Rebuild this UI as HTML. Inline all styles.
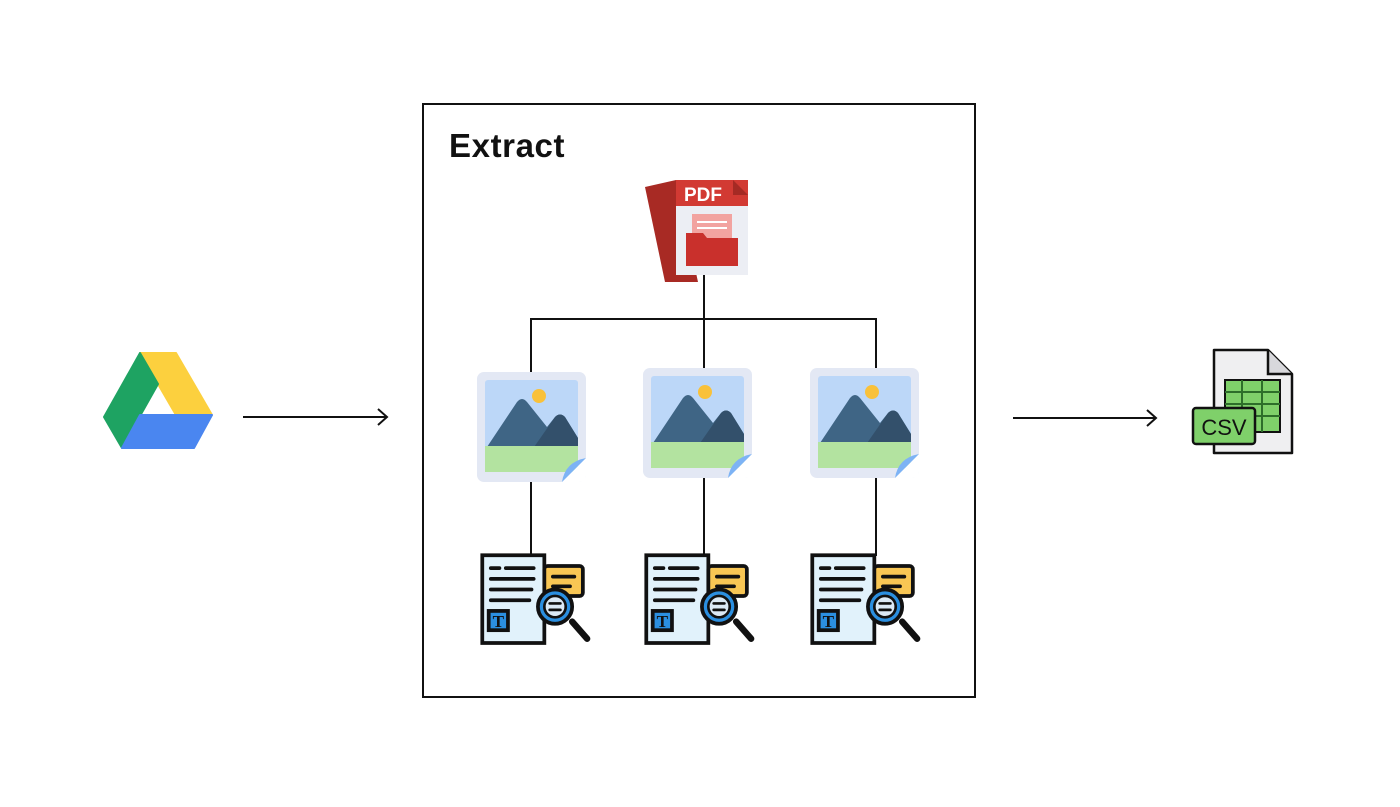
<!DOCTYPE html>
<html><head><style>
body{margin:0;background:#fff;width:1400px;height:802px;overflow:hidden}
</style></head><body>
<svg width="1400" height="802" viewBox="0 0 1400 802" xmlns="http://www.w3.org/2000/svg">
<defs>
<g id="img">
  <rect x="0" y="0" width="109" height="110" rx="7" fill="#e3e8f4"/>
  <rect x="8" y="8" width="93" height="92" rx="3" fill="#bcd7f8"/>
  <circle cx="62" cy="24" r="7" fill="#f9c13a"/>
  <path d="M8 78 L40 30 Q45 24 50 30 L70 55 L78 45 Q83 40 88 45 L101 66 L101 78 Z" fill="#3f6585"/>
  <path d="M55 78 L78 45 Q83 40 88 45 L101 66 L101 78 Z" fill="#33506b"/>
  <rect x="8" y="74" width="93" height="26" fill="#b3e3a0"/>
  <path d="M85 110 L109 86 L109 103 Q109 110 102 110 Z" fill="#fff"/>
  <path d="M85 110 Q88 90 109 86 Z" fill="#7db3f5"/>
</g>
<g id="doc" stroke="#111" stroke-width="3.5" stroke-linecap="round">
  <path d="M4 4 L62 4 L62 86 L4 86 Z" fill="#e1f2fb"/>
  <rect x="62" y="14" width="36" height="28" rx="3" fill="#f8c654"/>
  <line x1="70" y1="24" x2="90" y2="24"/><line x1="70" y1="33" x2="86" y2="33"/>
  <line x1="12" y1="16" x2="20" y2="16"/><line x1="26" y1="16" x2="52" y2="16"/>
  <line x1="12" y1="26" x2="52" y2="26"/><line x1="12" y1="36" x2="50" y2="36"/>
  <line x1="12" y1="46" x2="48" y2="46"/>
  <rect x="10" y="56" width="18" height="18" fill="#2b8fe0"/>
  <text x="19" y="71" font-family="Liberation Serif,serif" font-weight="bold" font-size="16" text-anchor="middle" fill="#111" stroke="none">T</text>
  <line x1="88" y1="66" x2="102" y2="82" stroke-width="6"/>
  <circle cx="72" cy="52" r="16" fill="#2b8fe0"/>
  <circle cx="72" cy="52" r="10" fill="#dbe9f5" stroke-width="2.5"/>
  <line x1="67" y1="49" x2="77" y2="49" stroke-width="2.5"/><line x1="67" y1="55" x2="77" y2="55" stroke-width="2.5"/>
</g>
</defs>

<rect x="423" y="104" width="552" height="593" fill="none" stroke="#111" stroke-width="2"/>
<text x="449" y="157" font-family="Liberation Sans,sans-serif" font-weight="bold" font-size="33" letter-spacing="0.6" fill="#111">Extract</text>

<g stroke="#111" stroke-width="2" fill="none">
  <line x1="704" y1="270" x2="704" y2="370"/>
  <polyline points="531,374 531,319 876,319 876,370"/>
  <line x1="531" y1="480" x2="531" y2="556"/>
  <line x1="704" y1="476" x2="704" y2="556"/>
  <line x1="876" y1="476" x2="876" y2="556"/>
  <line x1="243" y1="417" x2="387" y2="417"/>
  <polyline points="378,409 387,417 378,425"/>
  <line x1="1013" y1="418" x2="1156" y2="418"/>
  <polyline points="1147,410 1156,418 1147,426"/>
</g>

<g>
  <path d="M645 187 L676 180 L698 282 L665 282 Z" fill="#a82a24"/>
  <path d="M676 180 L733 180 L748 195 L748 275 L676 275 Z" fill="#eceef4"/>
  <rect x="676" y="180" width="72" height="26" fill="#d23a33"/>
  <path d="M733 180 L748 195 L733 195 Z" fill="#a52a24"/>
  <text x="684" y="201" font-family="Liberation Sans,sans-serif" font-weight="bold" font-size="19" fill="#fff">PDF</text>
  <rect x="692" y="214" width="40" height="28" fill="#f2a3a0"/>
  <line x1="697" y1="222" x2="727" y2="222" stroke="#fff" stroke-width="2"/>
  <line x1="697" y1="228" x2="727" y2="228" stroke="#fff" stroke-width="2"/>
  <path d="M686 233 L703 233 L707 238 L738 238 L738 266 L686 266 Z" fill="#c9302c"/>
</g>

<use href="#img" x="477" y="372"/>
<use href="#img" x="643" y="368"/>
<use href="#img" x="810" y="368"/>

<g transform="translate(478 551) scale(1.07)"><use href="#doc"/></g>
<g transform="translate(642 551) scale(1.07)"><use href="#doc"/></g>
<g transform="translate(808 551) scale(1.07)"><use href="#doc"/></g>

<g stroke-linejoin="round">
  <path d="M140 353 L176 353 L212 415 L176 415 Z" fill="#fcd03e" stroke="#fcd03e" stroke-width="2"/>
  <path d="M140 353 L158 384 L122 448 L104 417 Z" fill="#1ea362" stroke="#1ea362" stroke-width="2"/>
  <path d="M122 448 L194 448 L212 415 L140 415 Z" fill="#4a86f0" stroke="#4a86f0" stroke-width="2"/>
</g>

<g>
  <path d="M1214 350 L1268 350 L1292 374 L1292 453 L1214 453 Z" fill="#efeff1" stroke="#111" stroke-width="2.5" stroke-linejoin="round"/>
  <path d="M1268 350 L1268 374 L1292 374" fill="#d8d8dc" stroke="#111" stroke-width="2.5"/>
  <rect x="1225" y="380" width="55" height="52" fill="#7fd06a" stroke="#111" stroke-width="2"/>
  <g stroke="#2d6e2a" stroke-width="2"><line x1="1225" y1="392" x2="1280" y2="392"/><line x1="1225" y1="404" x2="1280" y2="404"/><line x1="1225" y1="416" x2="1280" y2="416"/><line x1="1242" y1="380" x2="1242" y2="432"/><line x1="1262" y1="380" x2="1262" y2="432"/></g>
  <rect x="1193" y="408" width="62" height="36" rx="3" fill="#7fd06a" stroke="#111" stroke-width="2.5"/>
  <text x="1224" y="435" font-family="Liberation Sans,sans-serif" font-size="22" text-anchor="middle" fill="#111">CSV</text>
</g>
</svg>
</body></html>
